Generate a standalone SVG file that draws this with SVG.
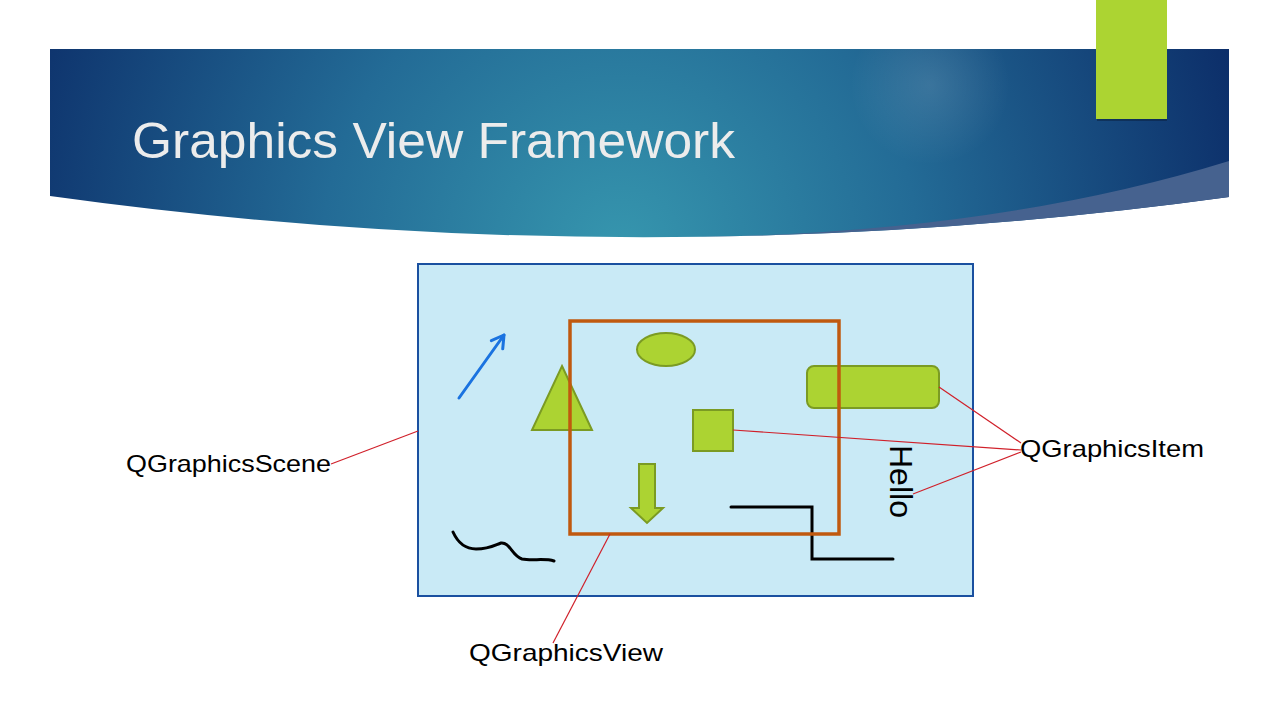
<svg xmlns="http://www.w3.org/2000/svg" width="1280" height="720" viewBox="0 0 1280 720">
<defs>
<style>
.lbl{font-family:"Liberation Sans",Arial,sans-serif;font-size:24px;fill:#000}
.item{fill:#acd332;stroke:#7b9b23;stroke-width:2}
.lead{stroke:#d0202a;stroke-width:1.2;fill:none}
.ink{stroke:#000;stroke-width:3;fill:none;stroke-linecap:round;stroke-linejoin:miter}
</style>
<radialGradient id="bannerG" gradientUnits="userSpaceOnUse" cx="620" cy="250" r="660">
<stop offset="0" stop-color="#3696ae"/>
<stop offset="0.45" stop-color="#236b96"/>
<stop offset="1" stop-color="#0b2b67"/>
</radialGradient>
<radialGradient id="spot" gradientUnits="userSpaceOnUse" cx="930" cy="85" r="80">
<stop offset="0" stop-color="#ffffff" stop-opacity="0.12"/>
<stop offset="1" stop-color="#ffffff" stop-opacity="0"/>
</radialGradient>
<clipPath id="bannerClip">
<path d="M50,49 L1229,49 L1229,197 Q640,278 50,196 Z"/>
</clipPath>
<marker id="blueHead" markerUnits="userSpaceOnUse" markerWidth="20" markerHeight="20" refX="0" refY="0" viewBox="-14 -10 16 20" orient="auto">
<path d="M-12,-7 L0,0 L-12,7" fill="none" stroke="#1a73e0" stroke-width="3" stroke-linecap="round" stroke-linejoin="round"/>
</marker>
</defs>
<rect width="1280" height="720" fill="#ffffff"/>
<g id="banner">
<path d="M50,49 L1229,49 L1229,197 Q640,278 50,196 Z" fill="url(#bannerG)"/>
<g clip-path="url(#bannerClip)">
<rect x="50" y="49" width="1179" height="200" fill="url(#spot)"/>
<path d="M700,237 Q1000,232 1229,161 L1229,260 L700,260 Z" fill="#46628f"/>
</g>
<rect x="1097" y="118" width="70" height="3" fill="#0a1d3c" opacity="0.5"/>
<rect x="1096" y="0" width="71" height="119" fill="#acd432"/>
<text x="132" y="158" font-family="'Liberation Sans',Arial,sans-serif" font-size="50" fill="#ececec" textLength="603" lengthAdjust="spacingAndGlyphs">Graphics View Framework</text>
</g>
<g id="scene">
<rect x="418" y="264" width="555" height="332" fill="#c9eaf6" stroke="#1a50a0" stroke-width="2"/>
</g>
<g id="blue-arrow">
<line x1="459" y1="398" x2="504" y2="335" stroke="#1a73e0" stroke-width="3" stroke-linecap="round" marker-end="url(#blueHead)"/>
</g>
<g id="squiggle">
<path class="ink" stroke-width="2" d="M453,532 C458,543 465,549 476,549 C490,549 495,545 501,543 C510,542 512,556 522,559 C532,561 545,558 554,561"/>
</g>
<g id="triangle">
<polygon class="item" points="562,366 592,430 532,430"/>
</g>
<g id="ellipse">
<ellipse class="item" cx="666" cy="349.5" rx="29" ry="16.5"/>
</g>
<g id="square">
<rect class="item" x="693" y="410" width="40" height="41"/>
</g>
<g id="rounded-rect">
<rect class="item" x="807" y="366" width="132" height="42" rx="7"/>
</g>
<g id="down-arrow">
<polygon class="item" points="639,464 655,464 655,508 663,508 647,523 631,508 639,508"/>
</g>
<g id="step-line">
<polyline class="ink" stroke-linecap="butt" points="731,507 812,507 812,559 893,559"/>
</g>
<g id="hello">
<text x="890" y="445" transform="rotate(90 890 445)" font-family="'Liberation Sans',Arial,sans-serif" font-size="32" fill="#000">Hello</text>
</g>
<g id="view">
<rect x="570" y="321" width="269" height="213" fill="none" stroke="#c0590f" stroke-width="3.5"/>
</g>
<g id="connectors">
<line class="lead" x1="331" y1="464" x2="418" y2="431"/>
<line class="lead" x1="553" y1="643" x2="610" y2="534"/>
<line class="lead" x1="1021" y1="443" x2="939" y2="387"/>
<line class="lead" x1="1021" y1="450" x2="733" y2="430"/>
<line class="lead" x1="1021" y1="452" x2="913" y2="494"/>
</g>
<g id="label-scene">
<text class="lbl" x="126" y="472" textLength="205" lengthAdjust="spacingAndGlyphs">QGraphicsScene</text>
</g>
<g id="label-view">
<text class="lbl" x="469" y="661" textLength="194" lengthAdjust="spacingAndGlyphs">QGraphicsView</text>
</g>
<g id="label-item">
<text class="lbl" x="1020" y="457" textLength="184" lengthAdjust="spacingAndGlyphs">QGraphicsItem</text>
</g>
</svg>
